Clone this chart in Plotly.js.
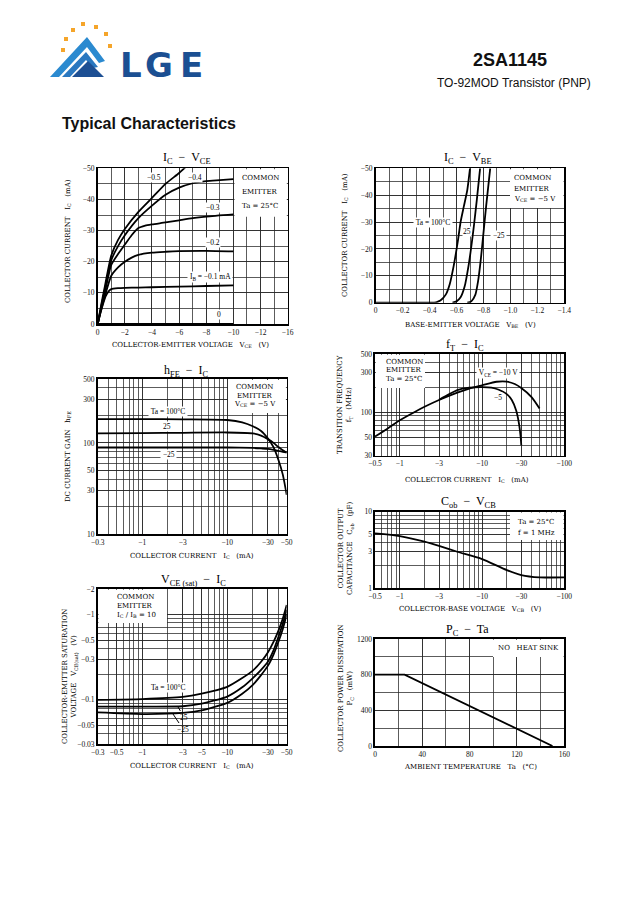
<!DOCTYPE html>
<html><head><meta charset="utf-8">
<script src="https://cdn.plot.ly/plotly-3.0.1.min.js"></script>
<style>html,body{margin:0;padding:0;background:#fff}#g{width:638px;height:903px}</style>
</head><body><div id="g"></div>
<script>
// ---------- DATA ----------
// IC - VCE (IB curves), VCE in V, IC in mA
const vceB01 = [0,-0.2,-0.4,-0.6,-0.8,-1,-1.5,-2,-3,-4,-6,-8,-10];
const icB01  = [0,-3.5,-6.5,-9,-10.5,-11.2,-11.5,-11.6,-11.7,-11.8,-12,-12.2,-12.4];
const vceB02 = [0,-0.25,-0.5,-1,-1.5,-2,-2.5,-3,-4,-5,-6,-8,-10];
const icB02  = [0,-4.5,-8.5,-15.5,-18.2,-20,-21.3,-22.2,-22.9,-23.2,-23.4,-23.5,-23.3];
const vceB03 = [0,-0.25,-0.5,-1,-1.5,-2,-2.5,-3,-3.5,-4,-5,-6,-7,-8,-10];
const icB03  = [0,-5,-9.5,-19,-22.5,-25.5,-28.5,-30.8,-31.6,-32,-32.6,-33.3,-34,-34.5,-35.2];
const vceB04 = [0,-0.25,-0.5,-1,-1.5,-2,-3,-4,-5,-6,-7,-8,-9,-10];
const icB04  = [0,-5.5,-10.5,-20.5,-25,-28.5,-34,-38,-41.5,-43.8,-45.2,-45.9,-46.2,-46.5];
const vceB05 = [0,-0.25,-0.5,-1,-1.5,-2,-3,-4,-5,-6,-6.5];
const icB05  = [0,-6,-11.5,-22,-27,-30.5,-36,-40.5,-45,-48.5,-50.5];
const vceB00 = [0,-10];
const icB00  = [0,0];
const vceTicks = [0,-2,-4,-6,-8,-10,-12,-14];
const vceTickText = ['0','\u22122','\u22124','\u22126','\u22128','\u221210','\u221212','\u221216'];
const icTicks = [0,-10,-20,-30,-40,-50];
const icTickText = ['0','\u221210','\u221220','\u221230','\u221240','\u221250'];

// IC - VBE
const vbe100 = [-0.44,-0.48,-0.52,-0.55,-0.58,-0.61,-0.63,-0.655,-0.68,-0.70];
const ic100  = [0,-0.8,-3,-7,-14,-23,-30,-36,-42,-50];
const vbe25  = [-0.57,-0.6,-0.63,-0.66,-0.69,-0.71,-0.73,-0.75,-0.775];
const ic25   = [0,-0.5,-2,-6,-14,-21,-29,-38,-50];
const vbeM25 = [-0.68,-0.71,-0.74,-0.76,-0.78,-0.80,-0.82,-0.85];
const icM25  = [0,-0.5,-3,-8,-16,-26,-36,-50];
const vbeLow = [0,-0.44];
const icLow  = [0,0];
const vbeTicks = [0,-0.2,-0.4,-0.6,-0.8,-1.0,-1.2,-1.4];
const vbeTickText = ['0','\u22120.2','\u22120.4','\u22120.6','\u22120.8','\u22121.0','\u22121.2','\u22121.4'];

// hFE - IC
const icH = [-0.3,-1,-3,-10,-15,-20,-25,-30,-35,-40,-45,-50];
const hfe100 = [182,182,181,178,168,152,135,112,90,65,45,27];
const icH2 = [-0.3,-1,-3,-10,-20,-25,-30,-35,-40,-45,-50];
const hfe25  = [127,128,129,130,127,120,110,100,90,83,78];
const hfeM25 = [89,89,89,89,88,87,86,84,82,80,79];
const hfeXTicks = [-0.3,-1,-3,-10,-30,-50];
const hfeYTicks = [10,30,50,100,300,500];

// fT - IC
const icF10 = [-0.5,-0.7,-1,-1.5,-2,-3,-5,-7,-10,-15,-20,-25,-30,-40,-50];
const ft10  = [51,63,80,100,116,140,172,192,210,232,233,218,195,152,111];
const icF5  = [-3,-4,-5,-7,-10,-13,-16,-20,-23,-26,-28,-29.5,-30];
const ft5   = [141,165,184,197,200,197,186,165,140,105,75,50,40];
const ftXTicks = [-0.5,-1,-3,-10,-30,-100];
const ftYTicks = [30,50,100,300,500];

// Cob - VCB
const vcb = [-0.5,-1,-2,-3,-5,-10,-20,-30,-50,-100];
const cob = [5.2,4.8,4.06,3.57,3.0,2.41,1.73,1.49,1.39,1.39];
const cobYTicks = [1,3,5,10];

// VCE(sat) - IC
const icS = [-0.3,-1,-3,-5,-10,-15,-20,-25,-30,-35,-40,-45,-50];
const sat100 = [-0.1,-0.102,-0.108,-0.118,-0.142,-0.18,-0.22,-0.28,-0.36,-0.48,-0.65,-0.9,-1.3];
const sat25  = [-0.083,-0.083,-0.084,-0.09,-0.109,-0.14,-0.18,-0.225,-0.28,-0.38,-0.55,-0.78,-1.14];
const satM25 = [-0.071,-0.068,-0.07,-0.075,-0.092,-0.118,-0.15,-0.195,-0.25,-0.34,-0.48,-0.68,-1.0];
const satXTicks = [-0.3,-0.5,-1,-3,-5,-10,-30,-50];
const satYTicks = [-0.03,-0.05,-0.1,-0.3,-0.5,-1,-2];

// PC - Ta
const ta = [0,25,150];
const pc = [800,800,0];
const taTicks = [0,40,80,120,160];
const pcTicks = [0,400,800,1200];

// ---------- LAYOUT HELPERS ----------
const W=638,H=903;
const px=x=>x/W, py=y=>1-y/H;
const xd=(a,b)=>[a/W,b/W];
const yd=(t,b)=>[1-b/H,1-t/H];
const SERIF='Liberation Serif, DejaVu Serif, serif';
const WIDE='DejaVu Serif, Liberation Serif, serif';
const GC='#262626';
const neg=v=>v===0?'0':'\u2212'+Math.abs(v);
const A=a=>a.map(Math.abs);
function logMinor(lo,hi){const o=[];for(let d=-3;d<4;d++){for(let k=1;k<10;k++){const v=+(k*Math.pow(10,d)).toPrecision(3);if(v>=lo*0.999&&v<=hi*1.001)o.push(v);}}return o;}
function ax(extra){return Object.assign({showline:true,mirror:true,linecolor:'#000',linewidth:1.6,zeroline:false,showgrid:true,gridcolor:GC,gridwidth:0.75,ticks:'',fixedrange:true,tickfont:{family:SERIF,size:7.5,color:'#111'}},extra);}
function mn(o){return Object.assign({showgrid:true,gridcolor:GC,gridwidth:0.75,ticks:''},o);}

const layout={width:W,height:H,margin:{l:0,r:0,t:0,b:0},paper_bgcolor:'#fff',plot_bgcolor:'#fff',showlegend:false,font:{family:SERIF,color:'#000'},
 xaxis: ax({domain:xd(97.7,287.7),range:[0,-14],tickmode:'array',tickvals:vceTicks,ticktext:vceTickText,minor:mn({dtick:1}),anchor:'y'}),
 yaxis: ax({domain:yd(168.3,324),range:[0,-50],tickmode:'array',tickvals:icTicks,ticktext:icTickText,minor:mn({dtick:5}),anchor:'x'}),
 xaxis2: ax({domain:xd(375.7,564.3),range:[0,-1.4],tickmode:'array',tickvals:vbeTicks,ticktext:vbeTickText,minor:mn({dtick:0.1}),anchor:'y2'}),
 yaxis2: ax({domain:yd(168.3,302.7),range:[0,-50],tickmode:'array',tickvals:icTicks,ticktext:icTickText,minor:mn({dtick:5}),anchor:'x2'}),
 xaxis3: ax({domain:xd(97.7,286.7),type:'log',range:[Math.log10(0.3),Math.log10(50)],tickmode:'array',tickvals:A(hfeXTicks),ticktext:hfeXTicks.map(neg),minor:mn({tickmode:'array',tickvals:logMinor(0.3,50)}),anchor:'y3'}),
 yaxis3: ax({domain:yd(379,534.3),type:'log',range:[1,Math.log10(500)],tickmode:'array',tickvals:hfeYTicks,ticktext:hfeYTicks.map(String),minor:mn({tickmode:'array',tickvals:logMinor(10,500)}),anchor:'x3'}),
 xaxis4: ax({domain:xd(375,564.3),type:'log',range:[Math.log10(0.5),2],tickmode:'array',tickvals:A(ftXTicks),ticktext:ftXTicks.map(neg),minor:mn({tickmode:'array',tickvals:logMinor(0.5,100)}),anchor:'y4'}),
 yaxis4: ax({domain:yd(354,455.7),type:'log',range:[Math.log10(30),Math.log10(500)],tickmode:'array',tickvals:ftYTicks,ticktext:ftYTicks.map(String),minor:mn({tickmode:'array',tickvals:logMinor(30,500)}),anchor:'x4'}),
 xaxis5: ax({domain:xd(375,564.3),type:'log',range:[Math.log10(0.5),2],tickmode:'array',tickvals:A(ftXTicks),ticktext:ftXTicks.map(neg),minor:mn({tickmode:'array',tickvals:logMinor(0.5,100)}),anchor:'y5'}),
 yaxis5: ax({domain:yd(511.7,588.3),type:'log',range:[0,1],tickmode:'array',tickvals:cobYTicks,ticktext:cobYTicks.map(String),minor:mn({tickmode:'array',tickvals:logMinor(1,10)}),anchor:'x5'}),
 xaxis6: ax({domain:xd(97.7,286.7),type:'log',range:[Math.log10(0.3),Math.log10(50)],tickmode:'array',tickvals:A(satXTicks),ticktext:satXTicks.map(neg),minor:mn({tickmode:'array',tickvals:logMinor(0.3,50)}),anchor:'y6'}),
 yaxis6: ax({domain:yd(589,744.3),type:'log',range:[Math.log10(0.03),Math.log10(2)],tickmode:'array',tickvals:A(satYTicks),ticktext:satYTicks.map(neg),minor:mn({tickmode:'array',tickvals:logMinor(0.03,2)}),anchor:'x6'}),
 xaxis7: ax({domain:xd(375,564.3),range:[0,160],tickmode:'array',tickvals:taTicks,ticktext:taTicks.map(String),minor:mn({dtick:20}),anchor:'y7'}),
 yaxis7: ax({domain:yd(639,746),range:[0,1200],tickmode:'array',tickvals:pcTicks,ticktext:pcTicks.map(String),minor:mn({dtick:200}),anchor:'x7'}),
 shapes:[],annotations:[]};

// white legend boxes (hide grid)
function box(x0,y0,x1,y1){layout.shapes.push({type:'rect',xref:'paper',yref:'paper',x0:px(x0),x1:px(x1),y0:py(y1),y1:py(y0),fillcolor:'#fff',line:{width:0},layer:'above'});}
box(234.5,169.2,286.8,216.7);
box(510,169.2,563.5,208);
box(228,380,285.9,413);
box(375.8,354.8,425,388);
box(510,512.5,563.5,540);
box(98.5,589.8,167,623);
box(493,639.8,563.5,657);

function T(x,y,text,o){layout.annotations.push(Object.assign({xref:'paper',yref:'paper',x:px(x),y:py(y),text:text,showarrow:false,xanchor:'center',yanchor:'middle',font:{family:SERIF,size:7.5,color:'#000'}},o||{}));}
const wb={bgcolor:'#fff',borderpad:0};
const af={font:{family:WIDE,size:7,color:'#000'}};
function AT(x,y,text,o){T(x,y,text,Object.assign({},af,o||{}));}

// chart titles
const tf={font:{family:SERIF,size:12,color:'#000'}};
T(187,158,'I<sub>C</sub>  \u2212  V<sub>CE</sub>',tf);
T(468,158,'I<sub>C</sub>  \u2212  V<sub>BE</sub>',tf);
T(187,371,'h<sub>FE</sub>  \u2212  I<sub>C</sub>',tf);
T(465,345,'f<sub>T</sub>  \u2212  I<sub>C</sub>',tf);
T(468,502,'C<sub>ob</sub>  \u2212  V<sub>CB</sub>',tf);
T(193,580,'V<sub>CE (sat)</sub>  \u2212  I<sub>C</sub>',tf);
T(467,630,'P<sub>C</sub>  \u2212  Ta',tf);

// axis titles
AT(190,345,'COLLECTOR-EMITTER VOLTAGE   V<sub>CE</sub>   (V)');
AT(68,241,'COLLECTOR CURRENT   I<sub>C</sub>   (mA)',{textangle:-90});
AT(470,325,'BASE-EMITTER VOLTAGE   V<sub>BE</sub>   (V)');
AT(345,235,'COLLECTOR CURRENT   I<sub>C</sub>   (mA)',{textangle:-90});
AT(192,556,'COLLECTOR CURRENT   I<sub>C</sub>   (mA)');
AT(68,457,'DC CURRENT GAIN   h<sub>FE</sub>',{textangle:-90});
AT(467,480,'COLLECTOR CURRENT   I<sub>C</sub>   (mA)');
AT(345,405,'TRANSITION FREQUENCY<br>f<sub>T</sub>   (MHz)',{textangle:-90});
AT(470,609,'COLLECTOR-BASE VOLTAGE   V<sub>CB</sub>   (V)');
AT(346,549,'COLLECTOR OUTPUT<br>CAPACITANCE   C<sub>ob</sub>   (pF)',{textangle:-90});
AT(192,766,'COLLECTOR CURRENT   I<sub>C</sub>   (mA)');
AT(70,677,'COLLECTOR-EMITTER SATURATION<br>VOLTAGE   V<sub>CE(sat)</sub>   (V)',{textangle:-90});
AT(470,767,'AMBIENT TEMPERATURE   Ta   (\u00B0C)');
AT(346,688,'COLLECTOR POWER DISSIPATION<br>P<sub>C</sub>   (mW)',{textangle:-90});

// legend texts
AT(260,178,'COMMON'); AT(260,192,'EMITTER'); AT(260,206,'Ta = 25\u00B0C');
AT(512,178,'COMMON',{xanchor:'left'}); AT(512,188.5,'EMITTER',{xanchor:'left'}); AT(512,199,'V<sub>CE</sub> = \u22125 V',{xanchor:'left'});
AT(255,387,'COMMON'); AT(255,395.5,'EMITTER'); AT(255,404,'V<sub>CE</sub> = \u22125 V');
AT(404,362,'COMMON'); AT(404,370.5,'EMITTER'); AT(404,379,'Ta = 25\u00B0C');
AT(536,522,'Ta = 25\u00B0C'); AT(536,533,'f = 1 MHz');
AT(115,597,'COMMON',{xanchor:'left'}); AT(115,606,'EMITTER',{xanchor:'left'}); AT(115,615,'I<sub>C</sub> / I<sub>B</sub> = 10',{xanchor:'left'});
AT(528,648,'NO   HEAT SINK');

// curve labels
T(154,177,'\u22120.5',wb); T(195,177,'\u22120.4',wb); T(213,207,'\u22120.3',wb); T(213,242,'\u22120.2',wb);
T(210,277,' I<sub>B</sub> = \u22120.1 mA ',wb); T(219,314,'0',wb);
T(433,222,' Ta = 100\u00B0C ',wb); T(467,231,'25',wb); T(498,235,' \u221225 ',wb);
T(168,412,' Ta = 100\u00B0C ',wb); T(167,427,'25',wb); T(168,454,' \u221225 ',wb);
T(498,373,' V<sub>CE</sub> = \u221210 V ',wb); T(498,398,'\u22125',wb);
T(168,687,'Ta = 100\u00B0C',wb);
layout.annotations.push({xref:'paper',yref:'paper',x:px(178),y:py(707),ax:6,ay:10,text:'25',showarrow:true,arrowhead:0,arrowwidth:1,arrowcolor:'#000',font:{family:SERIF,size:7.5}});
layout.annotations.push({xref:'paper',yref:'paper',x:px(173),y:py(714),ax:10,ay:15,text:'\u221225',showarrow:true,arrowhead:0,arrowwidth:1,arrowcolor:'#000',font:{family:SERIF,size:7.5}});

// header
const SANS='Liberation Sans, Arial, sans-serif';
T(510,60,'<b>2SA1145</b>',{font:{family:SANS,size:18,color:'#111'}});
T(514,83,'TO-92MOD Transistor (PNP)',{font:{family:SANS,size:12,color:'#111'}});
T(60,124,'<b>Typical Characteristics</b>',{font:{family:SANS,size:16,color:'#111'},xanchor:'left'});
// logo
const lf={font:{family:'DejaVu Sans, sans-serif',size:34,color:'#1b4f92'}};
T(131,65,'<b>L</b>',lf); T(159,65,'<b>G</b>',lf); T(191.5,65,'<b>E</b>',lf);
function path(pts,color){let s='';pts.forEach((p,i)=>{s+=(i?'L':'M')+px(p[0]).toFixed(5)+','+py(p[1]).toFixed(5)+' ';});layout.shapes.push({type:'path',xref:'paper',yref:'paper',path:s+'Z',fillcolor:color,line:{width:0},layer:'above'});}
path([[50,77],[87,37],[105,61],[99,63],[87,47],[59,77]],'#2b8ad0');
path([[62,77],[86,52],[98,67],[93,68],[86,60],[70,77]],'#2a78c0');
path([[72,77],[88,61],[104,77]],'#1d4f93');
[[63,50],[66,39],[73,30],[83,24],[96,27],[106,34],[110,46]].forEach(d=>{layout.shapes.push({type:'rect',xref:'paper',yref:'paper',x0:px(d[0]-2),x1:px(d[0]+2),y0:py(d[1]+2),y1:py(d[1]-2),fillcolor:'#f5a52a',line:{width:0}});});

// ---------- TRACES ----------
const L={color:'#000',width:1.8,shape:'spline',smoothing:0.6};
function tr(x,y,xa,ya,lin){return {x:x,y:y,xaxis:xa,yaxis:ya,mode:'lines',line:lin?{color:'#000',width:1.8}:L,hoverinfo:'skip'};}
const data=[
 tr(vceB00,icB00,'x','y',true), tr(vceB01,icB01,'x','y'), tr(vceB02,icB02,'x','y'), tr(vceB03,icB03,'x','y'), tr(vceB04,icB04,'x','y'), tr(vceB05,icB05,'x','y'),
 tr(vbeLow,icLow,'x2','y2',true), tr(vbe100,ic100,'x2','y2'), tr(vbe25,ic25,'x2','y2'), tr(vbeM25,icM25,'x2','y2'),
 tr(A(icH),hfe100,'x3','y3'), tr(A(icH2),hfe25,'x3','y3'), tr(A(icH2),hfeM25,'x3','y3'),
 tr(A(icF10),ft10,'x4','y4'), tr(A(icF5),ft5,'x4','y4'),
 tr(A(vcb),cob,'x5','y5'),
 tr(A(icS),A(sat100),'x6','y6'), tr(A(icS),A(sat25),'x6','y6'), tr(A(icS),A(satM25),'x6','y6'),
 tr(ta,pc,'x7','y7',true)
];
Plotly.newPlot('g',data,layout,{staticPlot:true,displayModeBar:false});
</script></body></html>
